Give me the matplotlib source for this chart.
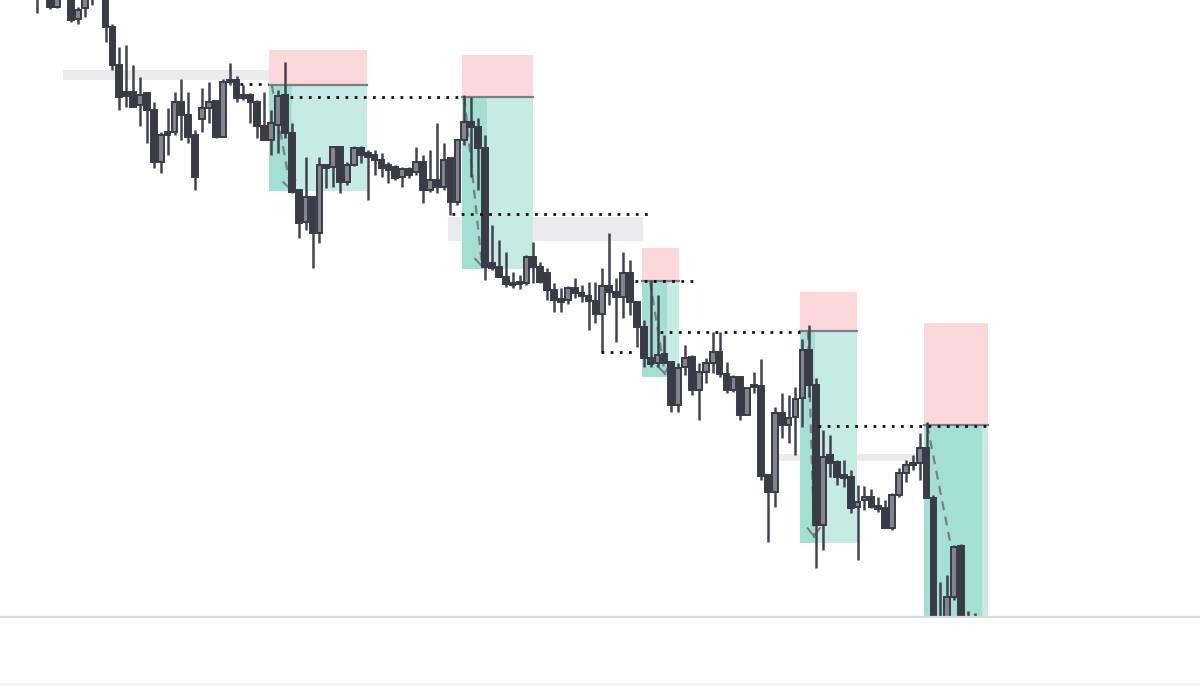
import matplotlib
matplotlib.use("Agg")
import matplotlib.pyplot as plt
from matplotlib.patches import Rectangle
from matplotlib.lines import Line2D

# --- candles (price units, one entry per bar) ---
opens = [640, 624, 635, 613, 625, 642, 601, 612, 622, 632,
         640, 593, 555, 528, 528, 515, 527, 510, 458, 488,
         488, 518, 505, 485, 501, 512, 519, 483, 540, 540,
         525, 525, 518, 494, 480, 495, 525, 487, 430, 398,
         423, 387, 455, 453, 473, 438, 455, 472, 467, 465,
         460, 455, 453, 443, 451, 448, 458, 430, 440, 433,
         462, 418, 480, 498, 493, 472, 357, 353, 343, 337,
         336, 337, 363, 353, 347, 330, 321, 320, 332, 327,
         324, 319, 306, 334, 328, 323, 347, 318, 293, 262,
         257, 266, 258, 215, 253, 263, 230, 248, 257, 268,
         246, 230, 243, 205, 235, 234, 145, 128, 207, 195,
         203, 222, 270, 235, 95, 165, 158, 145, 143, 113,
         120, 123, 114, 112, 92, 125, 147, 157, 157, 172,
         122, -20, -25, 23, 74, -10, -20]
highs = [645, 642, 638, 630, 648, 645, 613, 626, 635, 650,
         645, 596, 573, 575, 555, 543, 527, 518, 488, 512,
         528, 541, 528, 490, 532, 538, 520, 541, 557, 544,
         535, 527, 520, 528, 510, 530, 558, 497, 430, 463,
         423, 463, 455, 473, 473, 458, 474, 474, 470, 470,
         467, 458, 455, 453, 453, 473, 465, 470, 497, 477,
         462, 480, 525, 523, 502, 485, 395, 380, 368, 348,
         345, 365, 378, 358, 352, 337, 332, 334, 342, 335,
         338, 338, 352, 387, 342, 368, 360, 318, 300, 340,
         325, 285, 258, 257, 275, 265, 257, 262, 288, 288,
         258, 245, 243, 232, 248, 261, 145, 213, 227, 225,
         233, 281, 295, 242, 190, 185, 160, 160, 150, 135,
         134, 131, 123, 120, 127, 152, 160, 165, 187, 198,
         125, 38, 45, 75, 76, 9, 7]
lows = [607, 622, 611, 612, 622, 598, 596, 603, 615, 628,
        578, 550, 510, 513, 513, 494, 477, 452, 447, 465,
        485, 480, 477, 430, 488, 497, 482, 483, 535, 518,
        520, 497, 482, 480, 465, 467, 482, 427, 382, 390,
        352, 377, 432, 433, 427, 435, 454, 457, 420, 445,
        443, 437, 440, 433, 442, 445, 417, 428, 427, 430,
        405, 415, 475, 443, 430, 340, 350, 343, 333, 332,
        331, 335, 337, 337, 320, 308, 308, 316, 322, 318,
        290, 297, 268, 315, 278, 302, 305, 273, 253, 253,
        253, 257, 208, 208, 245, 225, 200, 237, 247, 243,
        227, 228, 200, 205, 227, 140, 78, 113, 182, 177,
        165, 193, 223, 52, 70, 143, 135, 133, 107, 60,
        110, 112, 108, 92, 90, 123, 138, 150, 140, 122,
        -40, -45, -30, 20, -30, -45, -50]
closes = [623, 638, 613, 625, 642, 600, 610, 623, 632, 645,
          593, 555, 523, 524, 513, 525, 510, 458, 485, 485,
          518, 505, 483, 443, 512, 518, 483, 538, 538, 522,
          522, 518, 494, 480, 497, 524, 487, 428, 397, 423,
          387, 455, 452, 473, 438, 455, 472, 465, 463, 460,
          452, 450, 442, 451, 445, 458, 430, 440, 433, 460,
          418, 480, 498, 493, 472, 353, 352, 343, 336, 335,
          338, 363, 353, 338, 330, 320, 318, 332, 327, 324,
          319, 306, 334, 328, 323, 347, 318, 293, 262, 256,
          265, 257, 215, 252, 262, 230, 248, 257, 268, 246,
          230, 243, 205, 232, 233, 144, 128, 207, 195, 202,
          221, 270, 235, 95, 163, 157, 143, 142, 112, 118,
          123, 113, 111, 92, 125, 147, 155, 155, 172, 122,
          -30, -35, 23, 73, -20, -40, -40]

# --- grey supply zones ---
zone_start = [3.8, 59.6, 107.6]
zone_end = [36.0, 87.9, 127.3]
zone_low = [540, 379, 159]
zone_high = [550, 403, 166]

# --- short position boxes ---
box_start = [33.7, 61.7, 87.75, 110.65, 128.6]
box_end = [47.9, 71.96, 93.1, 118.9, 137.9]
box_run_end = [37.0, 65.3, 91.4, 112.8, 137.0]
stop_price = [570, 565, 372, 328, 297]
entry_price = [535, 523, 339, 289, 195]
target_price = [429, 351, 243, 77, -20]
entry_bar = [34.1, 62.0, 88.9, 111.8, 129.1]
exit_bar = [36.9, 64.6, 91.1, 112.7, 132.5]
exit_price = [429, 352, 245, 82, 75]
trade_closed = [True, True, True, True, False]

# --- dotted liquidity levels ---
level_price = [536, 523, 406, 339, 268, 288, 194]
level_start = [29.5, 36.7, 60.2, 86.7, 81.8, 90.4, 113.3]
level_end = [33.5, 61.7, 88.6, 95.7, 86.3, 110.65, 138.5]

DARK = "#393b47"
LIGHT = "#84848f"
WICK = "#41434e"

fig = plt.figure(figsize=(12, 6.87), dpi=100)
fig.patch.set_facecolor("white")
ax = fig.add_axes([0, 70 / 687, 1, 617 / 687])
ax.set_xlim(-36.5 / 6.9, (1200 - 36.5) / 6.9)
ax.set_ylim(3, 620)
ax.axis("off")

for i in range(len(zone_start)):
    ax.add_patch(Rectangle((zone_start[i], zone_low[i]), zone_end[i] - zone_start[i],
                           zone_high[i] - zone_low[i], facecolor="#e4e4ea", alpha=0.75,
                           edgecolor="none", zorder=1))

for i in range(len(box_start)):
    w = box_end[i] - box_start[i]
    ax.add_patch(Rectangle((box_start[i], entry_price[i]), w, stop_price[i] - entry_price[i],
                           facecolor="#fdd8da", edgecolor="none", zorder=1))
    ax.add_patch(Rectangle((box_start[i], target_price[i]), w, entry_price[i] - target_price[i],
                           facecolor="#c6ebe4", edgecolor="none", zorder=1))
    ax.add_patch(Rectangle((box_start[i], target_price[i]), box_run_end[i] - box_start[i],
                           entry_price[i] - target_price[i],
                           facecolor="#a3dfd3", edgecolor="none", zorder=1.1))
    ax.plot([box_start[i], box_end[i]], [entry_price[i]] * 2, color="#7b7e88", lw=1.6, zorder=1.5)
    ax.plot([entry_bar[i], exit_bar[i]], [entry_price[i], exit_price[i]], color="#7b7e88",
            lw=1.6, ls=(0, (4, 3)), zorder=1.6)
    if trade_closed[i]:
        dx = exit_bar[i] - entry_bar[i]
        dy = exit_price[i] - entry_price[i]
        ax.annotate("", xy=(exit_bar[i], exit_price[i]),
                    xytext=(exit_bar[i] - 0.02 * dx, exit_price[i] - 0.02 * dy),
                    arrowprops=dict(arrowstyle="->,head_length=0.6,head_width=0.45",
                                    color="#7b7e88", lw=1.5), zorder=1.6)

for i in range(len(opens)):
    o, h, l, c = opens[i], highs[i], lows[i], closes[i]
    ax.plot([i, i], [l, h], color=WICK, lw=1.8, solid_capstyle="butt", zorder=3)
    lo, hi = min(o, c), max(o, c)
    bull = c > o
    ax.add_patch(Rectangle((i - 0.41, lo), 0.82, max(hi - lo, 2.2),
                           facecolor=LIGHT if bull else DARK, edgecolor=DARK,
                           lw=1.4, zorder=4))

for i in range(len(level_price)):
    ax.plot([level_start[i], level_end[i]], [level_price[i]] * 2, color="#111111",
            lw=2.0, ls=(0, (1, 2.3)), zorder=5)

fig.add_artist(Line2D([0, 1], [70 / 687, 70 / 687], color="#d6d9e0", lw=1.6,
                      transform=fig.transFigure))
fig.add_artist(Line2D([0, 1], [3 / 687, 3 / 687], color="#ebedf1", lw=1.0,
                      transform=fig.transFigure))

fig.savefig("out.png", dpi=100, facecolor="white")
